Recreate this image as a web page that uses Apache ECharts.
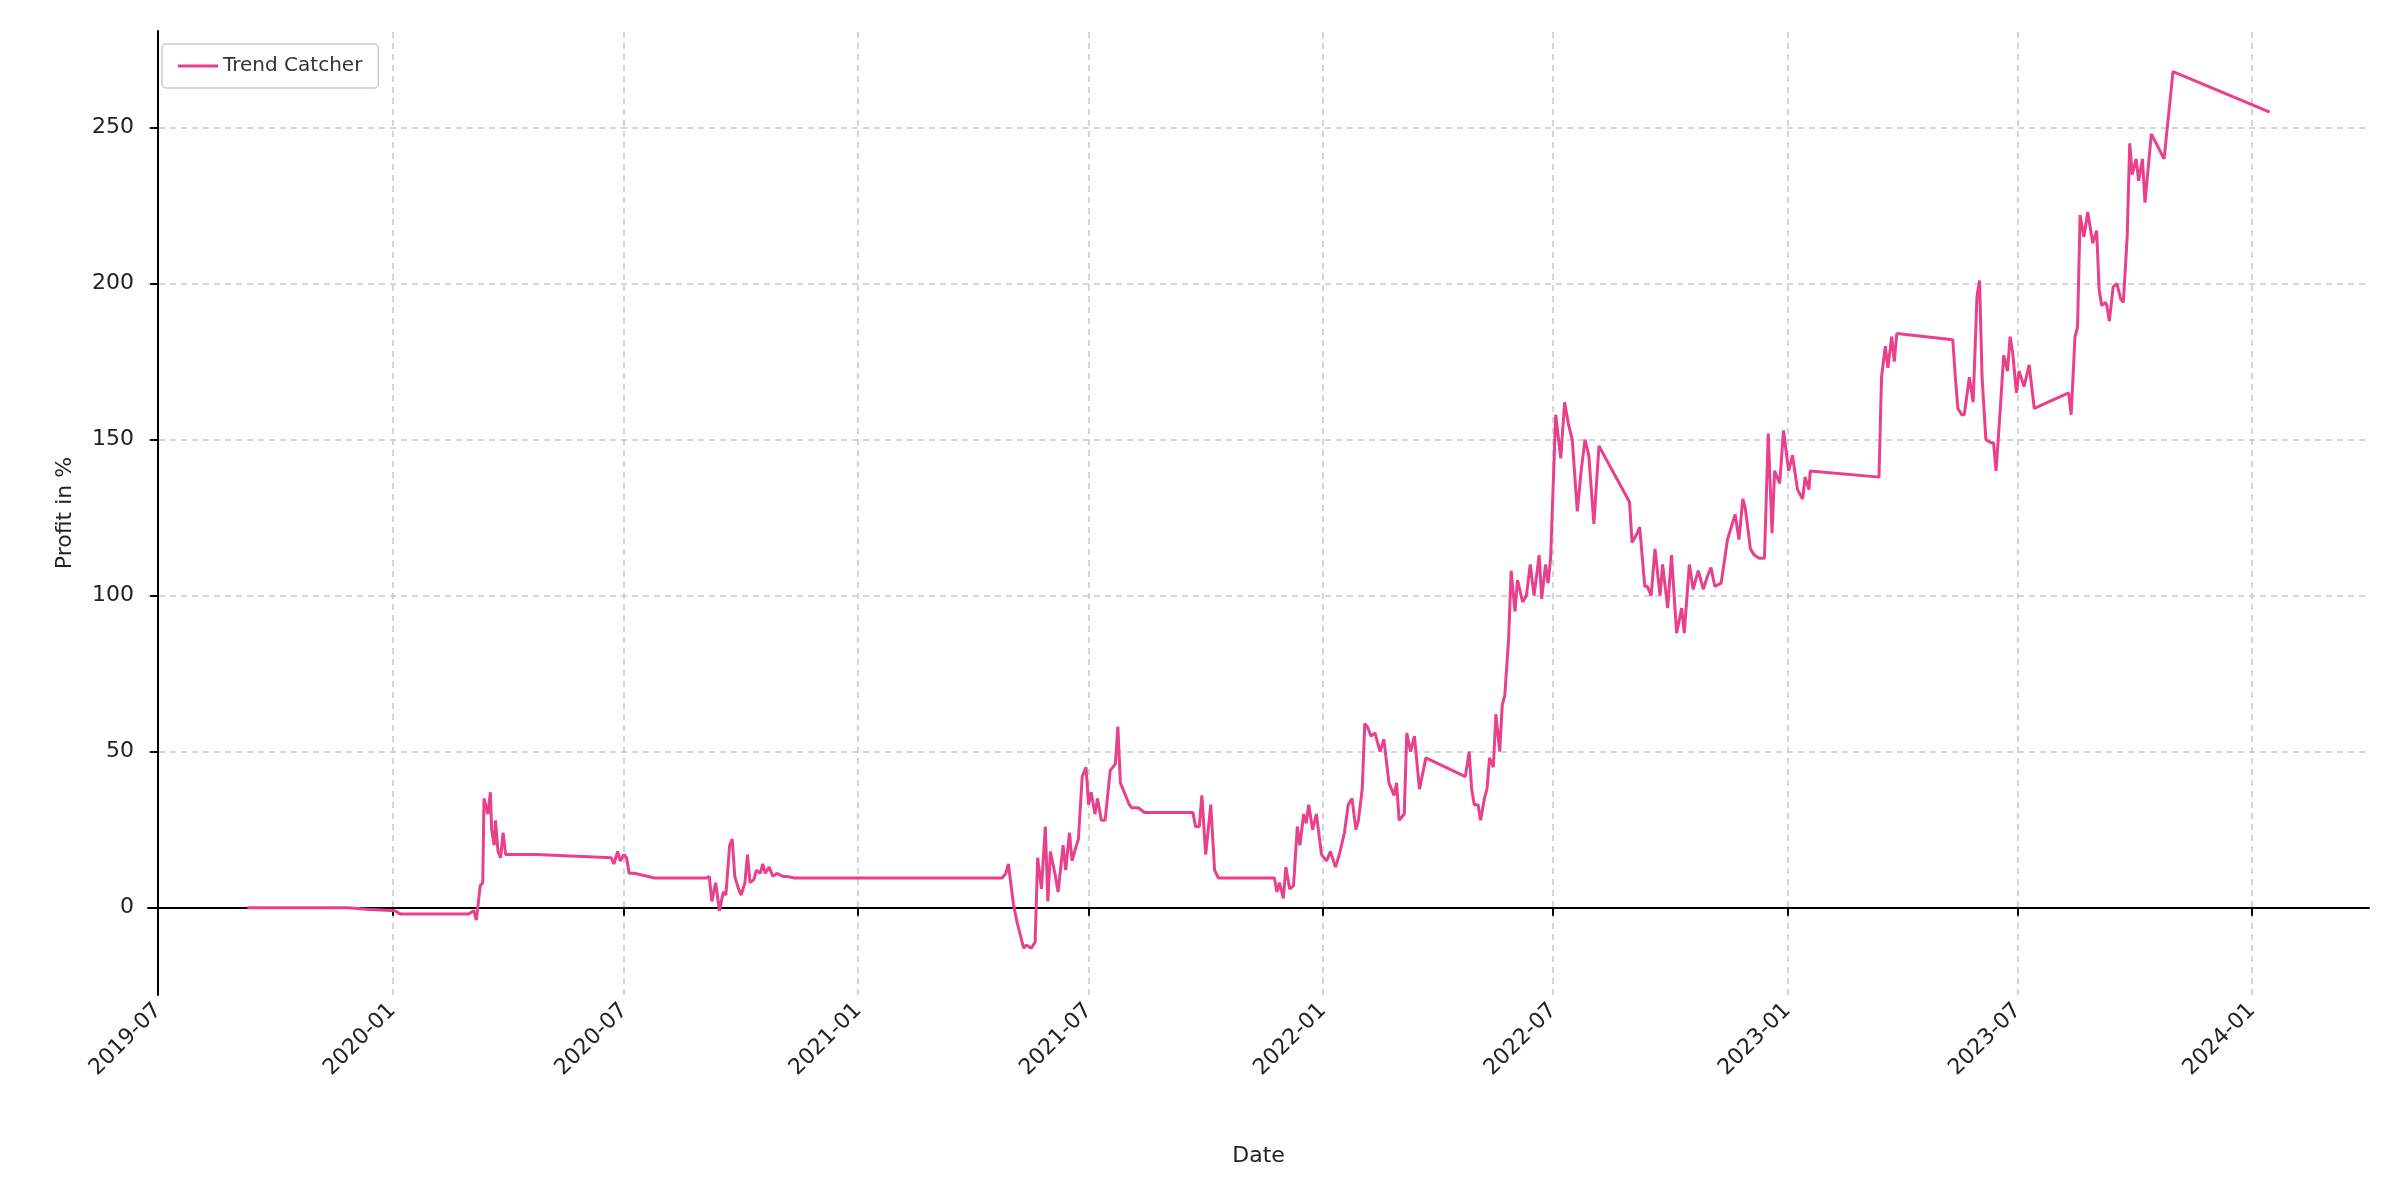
<!DOCTYPE html>
<html><head><meta charset="utf-8">
<script src="https://cdn.jsdelivr.net/npm/echarts@6/dist/echarts.min.js"></script>
<style>html,body{margin:0;padding:0;background:#fff}#c{width:2400px;height:1200px}</style>
</head><body><div id="c"></div>
<script>
// day offsets from 2019-07-01 and profit values (%)
const dayOffsets = [70,149,164,186,190,244,248,250,253,255,256,259,261,262,264,265,267,269,271,273,275,297,356,358,361,363,366,368,370,374,390,431,433,435,438,441,444,446,449,451,453,456,458,461,463,465,468,470,473,475,477,480,483,486,491,494,500,
663,666,668,672,675,680,682,686,689,691,694,697,699,701,705,707,711,713,716,718,720,723,726,729,731,733,736,738,741,744,748,752,754,756,760,763,765,770,775,813,815,818,820,823,825,827,830,833,
877,879,881,884,886,889,892,895,897,900,902,904,907,910,914,918,921,925,928,932,935,938,941,943,946,948,950,953,956,960,963,967,971,973,975,979,981,984,987,991,996,1027,1030,1032,1034,1037,1039,1042,1044,1046,1049,1051,1054,1056,1058,1061,1063,1066,1068,1072,1075,1078,1081,1085,1087,1090,1092,1094,1098,1102,1105,1108,1111,1115,1118,1121,1124,1128,1132,
1156,1158,1162,1164,1168,1170,1173,1176,1180,1182,1186,1189,1193,1197,1199,1203,1206,1210,1214,1217,1220,1223,1228,1233,1236,1239,1242,1245,1247,1251,1254,1258,1262,1265,1268,1270,1274,1277,1281,1284,1288,1292,1294,1297,1298,1352,1354,1357,1359,1362,1364,1366,
1410,1412,1414,1417,1419,1423,1426,1429,1431,1433,1436,1440,1442,1444,1447,1450,1453,1455,1457,1460,1462,1466,1470,1474,1501,1503,1506,1508,1510,1513,1516,1520,1523,1525,1527,1530,1531,1533,1536,1539,1542,1544,1547,1549,1551,1554,1556,1559,1561,1566,1571,1576,1583,1659];
const profit = [0,0,-0.5,-1,-2,-2,-1,-4,7,8,35,30,37,25,20,28,18,16,24,17,17,17,16,14,18,15,17,16,11,11,9.5,9.5,10,2,8,-1,5,4,20,22,10,6,4,8,17,8,9,12,11,14,11,13,10,11,10,10,9.5,
9.5,11,14,1,-5,-13,-12,-13,-11,16,6,26,2,18,10,5,20,12,24,15,18,22,42,45,33,37,30,35,28,28,44,46,58,40,36,33,32,32,30.5,30.5,26,26,36,17,25,33,12,9.5,
9.5,5,8,3,13,6,7,26,20,30,27,33,25,30,17,15,18,13,17,24,33,35,25,28,38,59,58,55,56,50,54,40,36,40,28,30,56,50,55,38,48,42,50,38,33,33,28,35,38,48,45,62,50,65,68,86,108,95,105,98,100,110,100,113,99,110,104,112,158,144,162,155,150,127,140,150,145,123,148,130,117,120,122,103,
103,100,115,100,110,96,113,88,96,88,110,102,108,102,106,109,103,104,118,122,126,118,131,128,115,113,112,112,152,120,140,136,153,140,145,134,131,138,134,140,138,170,180,173,183,175,184,182,170,160,158,158,170,162,196,201,170,150,149,
149,140,158,177,172,183,178,165,172,167,174,160,165,158,183,186,222,215,223,213,217,198,193,194,193,188,199,200,195,194,215,245,235,240,233,240,226,248,244,240,268,255,240,248,238,240,241,231,226,226,227,227,226,226];
const tickLabels = ['2019-07','2020-01','2020-07','2021-01','2021-07','2022-01','2022-07','2023-01','2023-07','2024-01'];
const yTicks = [0,50,100,150,200,250];
const seriesName = 'Trend Catcher';

const base = Date.UTC(2019,6,1);
const DAY = 86400000;
const n = Math.min(dayOffsets.length, profit.length);
const data = [];
for (let i=0;i<n;i++) data.push([dayOffsets[i], profit[i]]);
const tickVals = tickLabels.map(s=>{const [y,m]=s.split('-').map(Number);return Math.round((Date.UTC(y,m-1,1)-base)/DAY);});
const labelOf = {}; tickVals.forEach((v,i)=>labelOf[v]=tickLabels[i]);
const font = 'DejaVu Sans';
const gridStyle = {type:[6,5],color:'#c8c8c8',width:1.5};
const markLines = tickVals.map(v=>({xAxis:v})).concat(yTicks.map(v=>({yAxis:v})));
const chart = echarts.init(document.getElementById('c'));
chart.setOption({
  animation:false,
  textStyle:{fontFamily:font},
  grid:{left:148,right:31,top:31,bottom:205,containLabel:false},
  legend:{left:162,top:44,padding:[12,16],itemWidth:40,itemHeight:3,itemGap:10,
    borderColor:'#ccc',borderWidth:1.5,borderRadius:4,
    textStyle:{fontSize:20,color:'#333',fontFamily:font},icon:'rect',data:[seriesName]},
  xAxis:{type:'value',min:-8,max:1737,
    axisLine:{lineStyle:{color:'#000',width:2}},
    axisTick:{customValues:tickVals,length:8,lineStyle:{color:'#000',width:2}},
    axisLabel:{customValues:tickVals,rotate:45,fontSize:22,color:'#222',margin:12,
      formatter:v=>labelOf[v]!==undefined?labelOf[v]:''},
    splitLine:{show:false},
    name:'Date',nameLocation:'middle',nameGap:150,nameTextStyle:{fontSize:22,color:'#222'}},
  yAxis:{type:'value',min:-28,max:281,
    axisLine:{show:true,lineStyle:{color:'#000',width:2}},
    axisTick:{show:true,length:8,lineStyle:{color:'#000',width:2},customValues:yTicks},
    axisLabel:{fontSize:22,color:'#222',margin:14,customValues:yTicks},
    splitLine:{show:false},
    name:'Profit in %',nameLocation:'middle',nameGap:72,nameTextStyle:{fontSize:22,color:'#222'}},
  series:[{name:seriesName,type:'line',data:data,showSymbol:false,
    lineStyle:{color:'#e8408a',width:3},itemStyle:{color:'#e8408a'},
    markLine:{silent:true,symbol:['none','none'],label:{show:false},lineStyle:gridStyle,z:0,data:markLines}}]
});
</script></body></html>
